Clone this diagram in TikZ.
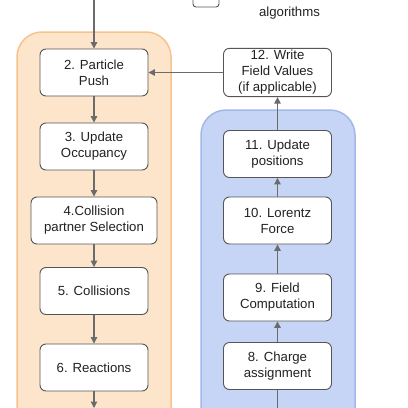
\documentclass[tikz,border=0pt]{standalone}
\usepackage{fontspec}
\setmainfont{Liberation Sans}
\usetikzlibrary{arrows.meta}
\definecolor{orfill}{HTML}{FDE5CC}
\definecolor{ordraw}{HTML}{F8C28C}
\definecolor{blfill}{HTML}{C6D4F6}
\definecolor{bldraw}{HTML}{A3B7EA}
\definecolor{arr}{HTML}{6B6B6B}
\definecolor{nd}{HTML}{555555}
\definecolor{txt}{HTML}{222222}
\begin{document}
\begin{tikzpicture}[x=1pt,y=-1pt,
  stepbox/.style={draw=nd, line width=0.9pt, fill=white, rounded corners=6pt,
    minimum width=108pt, minimum height=47pt, align=center,
    font=\fontsize{13.2}{16}\selectfont, text=txt, inner sep=2pt},
  flow/.style={draw=arr, line width=1.2pt, -{Triangle[length=6.5pt,width=6.5pt]}},
  plainline/.style={draw=arr, line width=1.2pt},
  group/.style={line width=1.5pt, rounded corners=25pt},
]
\useasboundingbox (0,0) rectangle (408,408);
\begin{scope}
  \clip (0,0) rectangle (408,408);
  \draw[group, fill=orfill, draw=ordraw] (17,32) rectangle (171,440);
  \draw[group, fill=blfill, draw=bldraw] (201,110) rectangle (355,440);
  \draw[draw=nd, line width=0.9pt, rounded corners=3pt] (193,-12) rectangle (219,7);
\end{scope}

\node[font=\fontsize{13.2}{16}\selectfont, text=txt] (leg) at (289.5,13) {algorithms};

\node[stepbox] (n2) at (94,72.5) {2. Particle\\Push};
\node[stepbox] (n3) at (94,146.5) {3. Update\\Occupancy};
\node[stepbox, minimum width=126pt] (n4) at (94,220.5) {4.Collision\\partner Selection};
\node[stepbox] (n5) at (94,291) {5. Collisions};
\node[stepbox] (n6) at (94,367.5) {6. Reactions};

\node[stepbox] (n12) at (277.5,72.5) {12. Write\\Field Values\\(if applicable)};
\node[stepbox] (n11) at (277.5,154) {11. Update\\positions};
\node[stepbox] (n10) at (277.5,220.5) {10. Lorentz\\Force};
\node[stepbox] (n9) at (277.5,297.5) {9. Field\\Computation};
\node[stepbox] (n8) at (277.5,366) {8. Charge\\assignment};

\coordinate (topin) at (94,0);
\coordinate (botout) at (94,408);
\coordinate (rbot) at (277.5,408);

\draw[flow] (topin) -- (n2);
\draw[flow] (n2) -- (n3);
\draw[flow] (n3) -- (n4);
\draw[flow] (n4) -- (n5);
\draw[flow] (n5) -- (n6);
\draw[flow] (n6) -- (botout);

\draw[plainline] (rbot) -- (n8);
\draw[flow] (n8) -- (n9);
\draw[flow] (n9) -- (n10);
\draw[flow] (n10) -- (n11);
\draw[flow] (n11) -- (n12);
\draw[flow] (n12) -- (n2);
\end{tikzpicture}
\end{document}
